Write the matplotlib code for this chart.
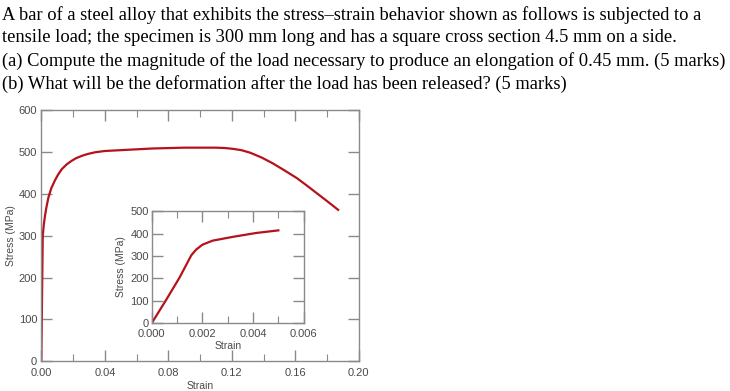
import matplotlib.pyplot as plt
from matplotlib.ticker import MultipleLocator, FormatStrFormatter

# stress-strain curve
strain = [0, 0.0009, 0.0016, 0.0024, 0.0032, 0.0045, 0.0063, 0.0085, 0.0105, 0.0130,
          0.0160, 0.0189, 0.0220, 0.0260, 0.0294, 0.034, 0.040, 0.050, 0.060, 0.070,
          0.080, 0.090, 0.100, 0.110, 0.116, 0.121, 0.126, 0.1315, 0.139, 0.146,
          0.153, 0.161, 0.167, 0.1735, 0.180, 0.187]
stress = [0, 300, 328, 350, 368, 392, 414, 432, 446, 460,
          471, 479, 486, 492, 496, 500, 503, 505, 507, 509,
          510, 511, 511, 511, 510, 508, 505, 499, 487, 473,
          457, 438, 421, 402, 383, 362]

# inset: elastic region
strain_in = [0, 0.00057, 0.0011, 0.00156, 0.00175, 0.0020, 0.0024, 0.0032, 0.0041, 0.0050]
stress_in = [0, 104, 204, 303, 328, 350, 368, 385, 402, 414]

question = [
    "A bar of a steel alloy that exhibits the stress\u2013strain behavior shown as follows is subjected to a",
    "tensile load; the specimen is 300 mm long and has a square cross section 4.5 mm on a side.",
    "(a) Compute the magnitude of the load necessary to produce an elongation of 0.45 mm. (5 marks)",
    "(b) What will be the deformation after the load has been released? (5 marks)",
]

red = '#b5121b'
grey = '#8a8a8a'
lab = '#4a4a4a'

plt.rcParams['font.family'] = ['Liberation Sans', 'DejaVu Sans']

fig = plt.figure(figsize=(7.3, 3.91), dpi=100)

for i, line in enumerate(question):
    fig.text(0.003, 1 - (15 + 23 * i) / 391, line, family='Liberation Serif',
             fontsize=13.3, va='center', ha='left', color='black')


def style(ax, xmaj, xmin, ymaj, xfmt, xpad, ypad):
    for s in ax.spines.values():
        s.set_color(grey)
        s.set_linewidth(1.0)
    ax.xaxis.set_major_locator(MultipleLocator(xmaj))
    ax.xaxis.set_minor_locator(MultipleLocator(xmin))
    ax.xaxis.set_major_formatter(FormatStrFormatter(xfmt))
    ax.yaxis.set_major_locator(MultipleLocator(ymaj))
    ax.tick_params(which='both', direction='in', top=True, right=True,
                   color=grey, labelcolor=lab, labelsize=8)
    ax.tick_params(axis='x', pad=xpad)
    ax.tick_params(axis='y', pad=ypad)
    ax.tick_params(which='major', length=8, width=1)
    ax.tick_params(which='minor', length=5, width=0.8)
    # lift the "0" label clear of the x labels
    ax.get_yticklabels()[0].set_va('bottom')


ax = fig.add_axes([0.0566, 0.0767, 0.4349, 0.6407])
ax.plot(strain, stress, color=red, lw=1.6)
ax.set_xlim(0, 0.2)
ax.set_ylim(0, 600)
style(ax, 0.04, 0.02, 100, '%.2f', 5, 3)
ax.set_xlabel('Strain', fontsize=7.5, color=lab, labelpad=2)
ax.set_ylabel('Stress (MPa)', fontsize=7.5, color=lab, labelpad=2)

ins = fig.add_axes([0.208, 0.174, 0.208, 0.286])
ins.plot(strain_in, stress_in, color=red, lw=1.6)
ins.set_xlim(0, 0.006)
ins.set_ylim(0, 500)
style(ins, 0.002, 0.001, 100, '%.3f', 4, 2)
ins.set_xlabel('Strain', fontsize=7.5, color=lab, labelpad=2)
ins.set_ylabel('Stress (MPa)', fontsize=7.5, color=lab, labelpad=3)

fig.savefig('out.png', dpi=100)
